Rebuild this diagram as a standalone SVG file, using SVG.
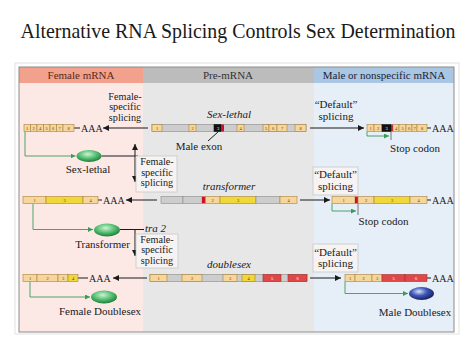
<svg xmlns="http://www.w3.org/2000/svg" width="474" height="355" viewBox="0 0 474 355">
<defs>
<style>
text{font-family:"Liberation Serif","Times New Roman",serif;fill:#1a1a1a}
.lbl{font-size:11px}
.st{font-size:10.2px}
.m{text-anchor:middle}
.it{font-size:11px;font-style:italic}
.hd{font-size:11px;text-anchor:middle}
.aaa{font-size:10px}
.d{font-size:4.5px;text-anchor:middle;fill:#5a3a10}
.dw{font-size:4.5px;text-anchor:middle;fill:#fff}
.o{fill:#f6d69b;stroke:#a8823f;stroke-width:0.6}
.y{fill:#f0d838;stroke:#a8823f;stroke-width:0.6}
.r{fill:#e04848;stroke:#a03030;stroke-width:0.6}
.g{fill:#cdcdcd;stroke:#8a8a8a;stroke-width:0.6}
.k{fill:#111;stroke:#111;stroke-width:0.6}
.rb{fill:#d0102a}
.ln{stroke:#1a1a1a;stroke-width:1;fill:none}
.gl{stroke:#3a9a5a;stroke-width:0.9;fill:none}
.tk{stroke:#555;stroke-width:0.8;fill:none}
.box{fill:#f6f3f2;stroke:#c4c4c4;stroke-width:0.7}
</style>
<marker id="ah" viewBox="0 0 6 6" refX="6" refY="3" markerWidth="6" markerHeight="6" markerUnits="userSpaceOnUse" orient="auto"><path d="M0,0 L6,3 L0,6 z" fill="#1a1a1a"/></marker>
<marker id="gh" viewBox="0 0 6 6" refX="6" refY="3" markerWidth="5" markerHeight="5" markerUnits="userSpaceOnUse" orient="auto"><path d="M0,0 L6,3 L0,6 z" fill="#3a9a5a"/></marker>
<radialGradient id="gg" cx="0.45" cy="0.35" r="0.65"><stop offset="0" stop-color="#c8f5cf"/><stop offset="0.6" stop-color="#4cb86a"/><stop offset="1" stop-color="#1f7a3c"/></radialGradient>
<radialGradient id="bg" cx="0.4" cy="0.35" r="0.7"><stop offset="0" stop-color="#d8e2ff"/><stop offset="0.45" stop-color="#4058b8"/><stop offset="1" stop-color="#101a5a"/></radialGradient>
</defs>
<rect width="474" height="355" fill="#fff"/>
<g id="title"><text x="238" y="38" font-size="19.9" text-anchor="middle">Alternative RNA Splicing Controls Sex Determination</text></g>
<g id="frame">
<rect x="15" y="63" width="444" height="271" fill="none" stroke="#e2e2e2" stroke-width="1"/>
<rect x="19" y="67" width="124" height="16" fill="#f2a18c"/>
<rect x="143" y="67" width="171" height="16" fill="#bcbcbc"/>
<rect x="314" y="67" width="140" height="16" fill="#a9c6e3"/>
<rect x="19" y="83" width="124" height="249" fill="#fce9e6"/>
<rect x="143" y="83" width="171" height="249" fill="#e7e7e7"/>
<rect x="314" y="83" width="140" height="249" fill="#e6eef7"/>
<rect x="19" y="67" width="435" height="265" fill="none" stroke="#8c8c8c" stroke-width="1"/>
<text class="hd" x="81" y="79" style="fill:#5a2a1a">Female mRNA</text>
<text class="hd" x="228" y="79" style="fill:#333">Pre-mRNA</text>
<text class="hd" x="384" y="79" style="fill:#223">Male or nonspecific mRNA</text>
</g>
<g id="connectors">
<path class="ln" d="M148,128 H103" marker-end="url(#ah)"/>
<path class="ln" d="M310,128 H364" marker-end="url(#ah)"/>
<path class="ln" d="M157,200 H126" marker-end="url(#ah)"/>
<path class="ln" d="M300,200 H330" marker-end="url(#ah)"/>
<path class="ln" d="M147,278 H113" marker-end="url(#ah)"/>
<path class="ln" d="M310,278 H341" marker-end="url(#ah)"/>
<path class="ln" d="M74,128 H80 M98,200 H102 M78,278 H88 M427,128 H431 M427,200 H431 M427,278 H431"/>
<path class="ln" d="M208,141 L218.5,131.5" stroke-width="0.9"/>
<path class="ln" d="M101.5,156 H138"/>
<path class="ln" d="M135,156 V144" marker-end="url(#ah)"/>
<path class="ln" d="M135,156 V182" marker-end="url(#ah)"/>
<path class="ln" d="M120,229.5 H144"/>
<path class="ln" d="M135,229.5 V256" marker-end="url(#ah)"/>
<path class="gl" d="M25,131.5 V156 H75.5" marker-end="url(#gh)"/>
<path class="gl" d="M33,203.5 V229.5 H93" marker-end="url(#gh)"/>
<path class="gl" d="M30,281.5 V297 H90" marker-end="url(#gh)"/>
<path class="gl" d="M367,131.5 V136 H389" marker-end="url(#gh)"/>
<path class="gl" d="M332,203.5 V211 H356" marker-end="url(#gh)"/>
<path class="gl" d="M345,281.5 V293.5 H408" marker-end="url(#gh)"/>
<path class="tk" d="M391,131.5 V140 M358,203.5 V215"/>
</g>
<g id="sxl-pre">
<rect class="g" x="152" y="124.5" width="154" height="7"/>
<rect class="o" x="152" y="124.5" width="10" height="7"/><text class="d" x="157" y="129.6">1</text>
<rect class="o" x="189" y="124.5" width="7" height="7"/><text class="d" x="192.5" y="129.6">2</text>
<rect class="k" x="214" y="124.5" width="7" height="7"/><rect class="rb" x="221" y="124.5" width="3" height="7"/><text class="dw" x="218" y="129.6">3</text>
<rect class="o" x="237" y="124.5" width="7" height="7"/><text class="d" x="240.5" y="129.6">4</text>
<rect class="o" x="263" y="124.5" width="6" height="7"/><text class="d" x="266" y="129.6">5</text>
<rect class="o" x="269" y="124.5" width="8" height="7"/><text class="d" x="273" y="129.6">6</text>
<rect class="o" x="277" y="124.5" width="10" height="7"/><text class="d" x="282" y="129.6">7</text>
<rect class="o" x="295" y="124.5" width="11" height="7"/><text class="d" x="300.5" y="129.6">8</text>
<text class="it m" x="229" y="118">Sex-lethal</text>
<text class="lbl m" x="199" y="150">Male exon</text>
</g>
<g id="sxl-female">
<rect class="o" x="24" y="124.5" width="6.5" height="7"/><text class="d" x="27.2" y="129.6">1</text>
<rect class="o" x="30.5" y="124.5" width="6.5" height="7"/><text class="d" x="33.7" y="129.6">2</text>
<rect class="o" x="37" y="124.5" width="6.5" height="7"/><text class="d" x="40.2" y="129.6">4</text>
<rect class="o" x="43.5" y="124.5" width="6.5" height="7"/><text class="d" x="46.7" y="129.6">5</text>
<rect class="o" x="50" y="124.5" width="6.5" height="7"/><text class="d" x="53.2" y="129.6">6</text>
<rect class="o" x="56.5" y="124.5" width="6.5" height="7"/><text class="d" x="59.7" y="129.6">7</text>
<rect class="o" x="63" y="124.5" width="11" height="7"/><text class="d" x="68.5" y="129.6">8</text>
<text class="aaa" x="81" y="131.5">AAA</text>
<text class="st m" x="125" y="99.5">Female-</text>
<text class="st m" x="125" y="110">specific</text>
<text class="st m" x="125" y="120.5">splicing</text>
</g>
<g id="sxl-protein">
<ellipse cx="89" cy="156" rx="12.5" ry="6" fill="url(#gg)"/>
<text class="lbl m" x="88" y="173">Sex-lethal</text>
</g>
<g id="sxl-male">
<rect class="o" x="367" y="124.5" width="7" height="7"/><text class="d" x="370.5" y="129.6">1</text>
<rect class="o" x="374" y="124.5" width="8" height="7"/><text class="d" x="378" y="129.6">2</text>
<rect class="k" x="382" y="124.5" width="9" height="7"/><rect class="rb" x="391" y="124.5" width="2" height="7"/><text class="dw" x="386.5" y="129.6">3</text>
<rect class="o" x="393" y="124.5" width="6" height="7"/><text class="d" x="396" y="129.6">4</text>
<rect class="o" x="399" y="124.5" width="7" height="7"/><text class="d" x="402.5" y="129.6">5</text>
<rect class="o" x="406" y="124.5" width="6" height="7"/><text class="d" x="409" y="129.6">6</text>
<rect class="o" x="412" y="124.5" width="5" height="7"/><text class="d" x="414.5" y="129.6">7</text>
<rect class="o" x="417" y="124.5" width="10" height="7"/><text class="d" x="422" y="129.6">8</text>
<text class="aaa" x="432" y="131.5">AAA</text>
<text class="lbl m" x="336" y="108">“Default”</text>
<text class="lbl m" x="336" y="120">splicing</text>
<text class="lbl m" x="415" y="152">Stop codon</text>
</g>
<g id="tra-pre">
<rect class="g" x="161" y="196.5" width="22" height="7"/>
<rect class="g" x="183" y="196.5" width="19" height="7"/>
<rect class="rb" x="202" y="196.5" width="3.5" height="7"/>
<rect class="o" x="205.5" y="196.5" width="14.5" height="7"/><text class="d" x="212.7" y="201.6">2</text>
<rect class="y" x="220" y="196.5" width="36" height="7"/><text class="d" x="238" y="201.6">3</text>
<rect class="g" x="256" y="196.5" width="24" height="7"/>
<rect class="o" x="280" y="196.5" width="17" height="7"/><text class="d" x="288.5" y="201.6">4</text>
<text class="it m" x="229" y="190">transformer</text>
</g>
<g id="tra-female">
<rect class="o" x="23" y="196.5" width="23" height="7"/><text class="d" x="34.5" y="201.6">1</text>
<rect class="y" x="46" y="196.5" width="37" height="7"/><text class="d" x="64.5" y="201.6">3</text>
<rect class="o" x="83" y="196.5" width="15" height="7"/><text class="d" x="90.5" y="201.6">4</text>
<text class="aaa" x="103" y="203.5">AAA</text>
<rect class="box" x="136" y="156" width="41" height="36"/>
<text class="st m" x="157" y="165">Female-</text>
<text class="st m" x="157" y="175.5">specific</text>
<text class="st m" x="157" y="186">splicing</text>
</g>
<g id="tra-protein">
<ellipse cx="107" cy="230" rx="13" ry="6.5" fill="url(#gg)"/>
<text class="lbl m" x="102.5" y="248">Transformer</text>
<text class="it" x="145" y="232">tra 2</text>
</g>
<g id="tra-male">
<rect class="box" x="313" y="167" width="45" height="28"/>
<text class="lbl m" x="335.5" y="178">“Default”</text>
<text class="lbl m" x="335.5" y="190">splicing</text>
<rect class="o" x="332" y="196.5" width="23" height="7"/><text class="d" x="343.5" y="201.6">1</text>
<rect class="rb" x="355" y="196.5" width="3" height="7"/>
<rect class="o" x="358" y="196.5" width="16" height="7"/><text class="d" x="366" y="201.6">2</text>
<rect class="y" x="374" y="196.5" width="36" height="7"/><text class="d" x="392" y="201.6">3</text>
<rect class="o" x="410" y="196.5" width="17" height="7"/><text class="d" x="418.5" y="201.6">4</text>
<text class="aaa" x="432" y="203.5">AAA</text>
<text class="lbl m" x="383.5" y="225">Stop codon</text>
</g>
<g id="dsx-pre">
<rect class="g" x="150" y="274.5" width="157" height="7"/>
<rect class="o" x="150" y="274.5" width="17" height="7"/><text class="d" x="158.5" y="279.6">1</text>
<rect class="o" x="182" y="274.5" width="20" height="7"/><text class="d" x="192" y="279.6">2</text>
<rect class="o" x="223" y="274.5" width="14" height="7"/><text class="d" x="230" y="279.6">3</text>
<rect class="y" x="242" y="274.5" width="13" height="7"/><text class="d" x="248.5" y="279.6">4</text>
<rect class="r" x="263" y="274.5" width="18" height="7"/><text class="dw" x="272" y="279.6">5</text>
<rect class="r" x="288" y="274.5" width="19" height="7"/><text class="dw" x="297.5" y="279.6">6</text>
<text class="it m" x="229" y="268">doublesex</text>
</g>
<g id="dsx-female">
<rect class="box" x="136" y="234" width="42" height="34"/>
<text class="st m" x="157" y="242.5">Female-</text>
<text class="st m" x="157" y="253">specific</text>
<text class="st m" x="157" y="263.5">splicing</text>
<rect class="o" x="23" y="274.5" width="14" height="7"/><text class="d" x="30" y="279.6">1</text>
<rect class="o" x="37" y="274.5" width="21" height="7"/><text class="d" x="47.5" y="279.6">2</text>
<rect class="o" x="58" y="274.5" width="10" height="7"/><text class="d" x="63" y="279.6">3</text>
<rect class="y" x="68" y="274.5" width="10" height="7"/><text class="d" x="73" y="279.6">4</text>
<text class="aaa" x="89" y="281.5">AAA</text>
</g>
<g id="dsx-female-protein">
<ellipse cx="104" cy="297" rx="13" ry="6.5" fill="url(#gg)"/>
<text class="lbl m" x="100" y="315">Female Doublesex</text>
</g>
<g id="dsx-male">
<rect class="box" x="313" y="244" width="45" height="28"/>
<text class="lbl m" x="335.5" y="256">“Default”</text>
<text class="lbl m" x="335.5" y="267">splicing</text>
<rect class="o" x="345" y="274.5" width="10" height="7"/><text class="d" x="350" y="279.6">1</text>
<rect class="o" x="355" y="274.5" width="17" height="7"/><text class="d" x="363.5" y="279.6">2</text>
<rect class="o" x="372" y="274.5" width="10" height="7"/><text class="d" x="377" y="279.6">3</text>
<rect class="r" x="382" y="274.5" width="23" height="7"/><text class="dw" x="393.5" y="279.6">5</text>
<rect class="r" x="405" y="274.5" width="22" height="7"/><text class="dw" x="416" y="279.6">6</text>
<text class="aaa" x="432" y="281.5">AAA</text>
</g>
<g id="dsx-male-protein">
<ellipse cx="421.5" cy="293.5" rx="12.5" ry="6.5" fill="url(#bg)"/>
<text class="lbl m" x="415" y="316">Male Doublesex</text>
</g>
</svg>
